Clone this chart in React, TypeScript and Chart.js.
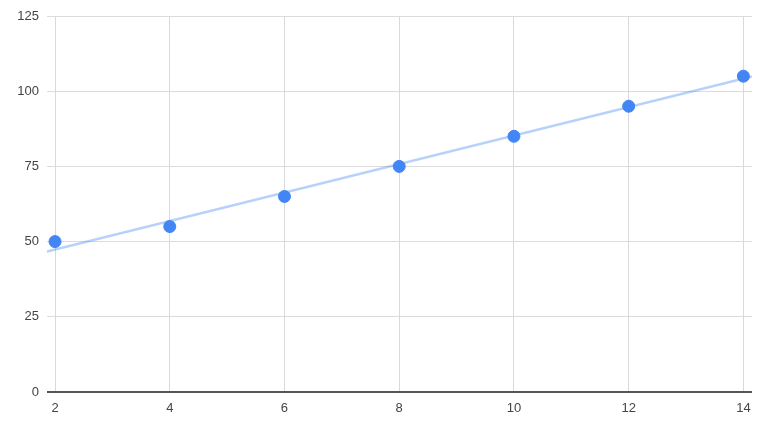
import React, { useEffect, useRef } from "react";
import { Chart, registerables } from "chart.js";

Chart.register(...registerables);

const xValues = [2, 4, 6, 8, 10, 12, 14];
const yValues = [50, 55, 65, 75, 85, 95, 105];
const trendX = [1.86, 14.15];
const trendY = [46.7, 104.9];
const xTicks = [2, 4, 6, 8, 10, 12, 14];

export default function App() {
  const ref = useRef<HTMLCanvasElement | null>(null);
  useEffect(() => {
    document.body.style.margin = "0";
    const ctx = ref.current!;
    const chart = new Chart(ctx, {
      type: "scatter",
      data: {
        datasets: [
          {
            type: "line",
            data: trendX.map((x, i) => ({ x, y: trendY[i] })),
            borderColor: "rgba(66,133,244,0.38)",
            borderWidth: 2.5,
            pointRadius: 0,
            fill: false,
            order: 2,
          } as any,
          {
            data: xValues.map((x, i) => ({ x, y: yValues[i] })),
            backgroundColor: "#4285f4",
            borderColor: "#4285f4",
            pointRadius: 6,
            pointHoverRadius: 6,
            order: 1,
          },
        ],
      },
      options: {
        animation: false,
        responsive: false,
        maintainAspectRatio: false,
        layout: { padding: { top: 16, right: 15, left: 0, bottom: 0 } },
        plugins: { legend: { display: false }, tooltip: { enabled: false } },
        scales: {
          x: {
            type: "linear",
            min: 1.86,
            max: 14.15,
            afterBuildTicks: (axis: any) => {
              axis.ticks = xTicks.map((v) => ({ value: v }));
            },
            afterFit: (axis: any) => {
              axis.height = 32;
            },
            grid: { color: "#d9d9d9", lineWidth: 1, drawTicks: false },
            border: { display: false },
            ticks: {
              color: "#444",
              font: { family: "Liberation Sans, Arial", size: 13 },
              padding: 9,
              maxRotation: 0,
            },
          },
          y: {
            min: 0,
            max: 125,
            afterFit: (axis: any) => {
              axis.width = 47;
            },
            grid: {
              color: (c: any) => (c.tick && c.tick.value === 0 ? "#555" : "#dcdcdc"),
              lineWidth: (c: any) => (c.tick && c.tick.value === 0 ? 2 : 1),
              drawTicks: false,
            },
            border: { display: false },
            ticks: {
              stepSize: 25,
              color: "#444",
              font: { family: "Liberation Sans, Arial", size: 13 },
              padding: 8,
            },
          },
        },
      },
    });
    return () => chart.destroy();
  }, []);
  return (
    <div style={{ width: 767, height: 424, background: "#fff" }}>
      <canvas ref={ref} width={767} height={424} style={{ width: 767, height: 424, display: "block" }} />
    </div>
  );
}
